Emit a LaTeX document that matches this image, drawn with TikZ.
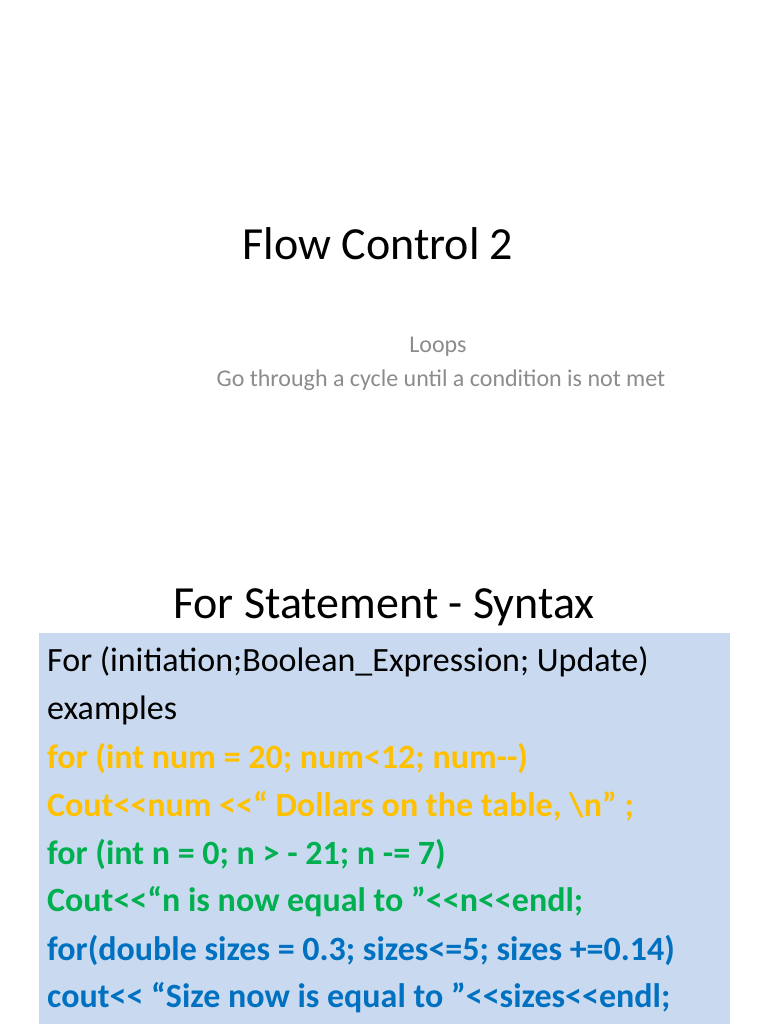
\documentclass[tikz,border=0pt]{standalone}
\usepackage{fontspec}
\setmainfont{Carlito}[Ligatures=TeXOff]
\definecolor{boxblue}{HTML}{C9DAF0}
\definecolor{subgray}{HTML}{8C8C8C}
\definecolor{corange}{HTML}{FFC000}
\definecolor{cgreen}{HTML}{00B050}
\definecolor{cblue}{HTML}{0070C0}
\tikzset{codeline/.style={anchor=west,inner sep=0pt,font=\fontsize{34}{36}\selectfont},
boldline/.style={codeline,font=\fontsize{34}{36}\selectfont\bfseries}}
\begin{document}
\begin{tikzpicture}[x=1pt,y=-1pt]
\useasboundingbox (0,0) rectangle (768,1024);
\fill[white] (0,0) rectangle (768,1024);
\node[font=\fontsize{46}{50}\selectfont] (t1) at (378,244) {Flow Control 2};
\node[font=\fontsize{24}{26}\selectfont,text=subgray] (s1) at (438,347) {Loops};
\node[font=\fontsize{24}{26}\selectfont,text=subgray] (s2) at (441,380) {Go through a cycle until a condition is not met};
\node[font=\fontsize{46}{50}\selectfont] (t2) at (384,607) {For Statement - Syntax};
\fill[boxblue] (39,633) rectangle (730,1024);
\node[codeline] (l1) at (47,662) {For (initiation;Boolean\_Expression; Update)};
\node[codeline] (l2) at (47,710) {examples};
\node[boldline,text=corange] (l3) at (47,758) {for (int num = 20; num<12; num--)};
\node[boldline,text=corange] (l4) at (47,806) {Cout<<num <<“ Dollars on the table, \textbackslash n” ;};
\node[boldline,text=cgreen] (l5) at (47,854) {for (int n = 0; n > - 21; n -= 7)};
\node[boldline,text=cgreen] (l6) at (47,902) {Cout<<“n is now equal to ”<<n<<endl;};
\node[boldline,text=cblue] (l7) at (47,950) {for(double sizes = 0.3; sizes<=5; sizes +=0.14)};
\node[boldline,text=cblue] (l8) at (47,998) {cout<< “Size now is equal to ”<<sizes<<endl;};
\end{tikzpicture}
\end{document}
